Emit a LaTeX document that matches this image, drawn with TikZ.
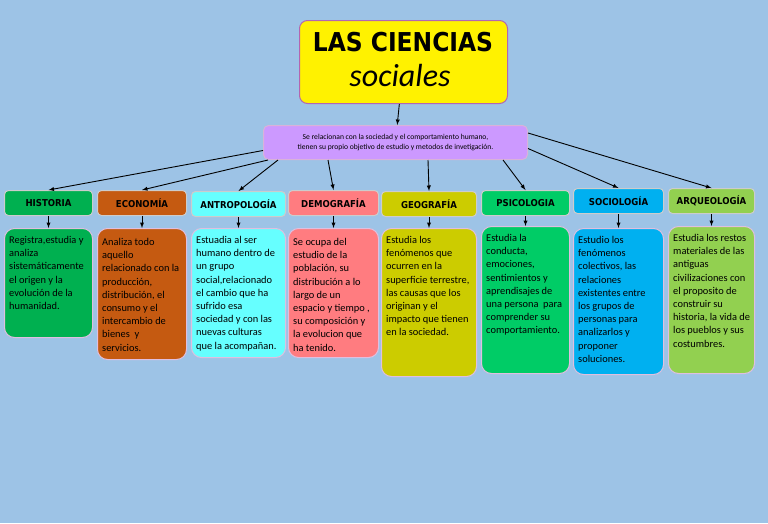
\documentclass[tikz,border=0pt]{standalone}
\usepackage{fontspec}
\setmainfont{Carlito}
\newfontfamily\headf{DejaVu Sans Condensed}
\begin{document}
\begin{tikzpicture}[x=1pt,y=-1pt,
 hdr/.style={draw=white!80!black,line width=1pt,rounded corners=4pt,font=\headf\bfseries\fontsize{9.5}{10}\selectfont,inner sep=0pt},
 bdy/.style={draw=white!75!violet,line width=1pt,rounded corners=10pt,inner sep=0pt},
 ar/.style={-latex,line width=0.9pt}]
\fill[fill={rgb,255:red,157;green,195;blue,230}] (0,0) rectangle (768,523);
\useasboundingbox (0,0) rectangle (768,523);
\node[draw=violet!60,line width=1pt,fill=yellow,rounded corners=8pt,minimum width=208pt,minimum height=83pt,anchor=north west,align=center,inner sep=0pt] (t) at (299,20) {};
\node at (403,42) {\headf\bfseries\fontsize{26}{28}\selectfont LAS CIENCIAS};
\node at (400,76) {\itshape\fontsize{32}{34}\selectfont sociales};
\node[draw=white!70!violet,line width=1pt,fill={rgb,255:red,204;green,153;blue,255},rounded corners=5pt,minimum width=264pt,minimum height=34pt,anchor=north west,inner sep=0pt,align=center,font=\fontsize{7.6}{10}\selectfont] (s) at (263,125) {Se relacionan con la sociedad y el comportamiento humano,\\tienen su propio objetivo de estudio y metodos de invetigación.};
\draw[ar] (t) -- (s);
\newcommand\cat[9]{%
 \node[hdr,fill=#4,minimum width=#3pt,minimum height=25pt,anchor=north west] (h#1) at (#2,#5) {#6};
 \node[bdy,fill=#4,minimum width=#3pt,minimum height=#8pt,anchor=north west] (b#1) at (#2,#7) {};
 \node[anchor=north west,font=\fontsize{10.4}{13.2}\selectfont,align=left,inner sep=0pt] at ([xshift=5pt,yshift=-8pt]b#1.north west) {#9};
 \draw[ar] (h#1) -- (b#1);}
\cat{1}{4}{88}{{rgb,255:red,0;green,176;blue,80}}{190}{HISTORIA}{228}{109}{Registra,estudia y\\analiza\\sistemáticamente\\el origen y la\\evolución de la\\humanidad.}
\cat{2}{97}{89}{{rgb,255:red,197;green,90;blue,17}}{190}{ECONOMÍA}{228}{131}{\\[-4pt]Analiza todo\\aquello\\relacionado con la\\producción,\\distribución, el\\consumo y el\\intercambio de\\bienes\ \ y\\servicios.}
\cat{3}{191}{94}{{rgb,255:red,102;green,255;blue,255}}{191}{ANTROPOLOGÍA}{228}{129}{Estuadia al ser\\humano dentro de\\un grupo\\social,relacionado\\el cambio que ha\\sufrido esa\\sociedad y con las\\nuevas culturas\\que la acompañan.}
\cat{4}{288}{90}{{rgb,255:red,255;green,124;blue,128}}{190}{DEMOGRAFÍA}{228}{129}{\\[-4pt]Se ocupa del\\estudio de la\\población, su\\distribución a lo\\largo de un\\espacio y tiempo ,\\su composición y\\la evolucion que\\ha tenido.}
\cat{5}{381}{95}{{rgb,255:red,204;green,204;blue,0}}{191}{GEOGRAFÍA}{228}{148}{Estudia los\\fenómenos que\\ocurren en la\\superficie terrestre,\\las causas que los\\originan y el\\impacto que tienen\\en la sociedad.}
\cat{6}{481}{88}{{rgb,255:red,0;green,204;blue,102}}{190}{PSICOLOGIA}{226}{147}{Estudia la\\conducta,\\emociones,\\sentimientos y\\aprendisajes de\\una persona\ \ para\\comprender su\\comportamiento.}
\cat{7}{573}{90}{{rgb,255:red,0;green,176;blue,240}}{188}{SOCIOLOGÍA}{228}{146}{Estudio los\\fenómenos\\colectivos, las\\relaciones\\existentes entre\\los grupos de\\personas para\\analizarlos y\\proponer\\soluciones.}
\cat{8}{668}{86}{{rgb,255:red,146;green,208;blue,80}}{188}{ARQUEOLOGÍA}{226}{147}{Estudia los restos\\materiales de las\\antiguas\\civilizaciones con\\el proposito de\\construir su\\historia, la vida de\\los pueblos y sus\\costumbres.}
\draw[ar] (s.west) ++(0,8) -- (h1.north);
\draw[ar] (s.south west) ++(5,0) -- (h2.north);
\draw[ar] ([xshift=15pt]s.south west) -- (h3.north);
\draw[ar] ([xshift=65pt]s.south west) -- (h4.north);
\draw[ar] ([xshift=165pt]s.south west) -- (h5.north);
\draw[ar] ([xshift=240pt]s.south west) -- (h6.north);
\draw[ar] ([yshift=-6pt]s.east) -- (h7.north);
\draw[ar] (s.north east) ++(0,8) -- (h8.north);
\end{tikzpicture}
\end{document}
